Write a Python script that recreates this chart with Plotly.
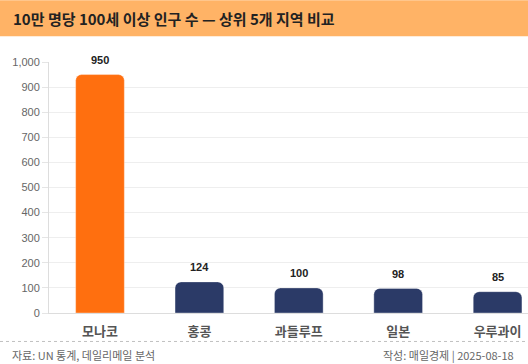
import plotly.graph_objects as go

categories = ["모나코", "홍콩", "과들루프", "일본", "우루과이"]
values = [950, 124, 100, 98, 85]
bar_colors = ["#FF6F0F", "#2B3A67", "#2B3A67", "#2B3A67", "#2B3A67"]
y_ticks = [0, 100, 200, 300, 400, 500, 600, 700, 800, 900, 1000]

title_text = "10만 명당 100세 이상 인구 수 — 상위 5개 지역 비교"
source_text = "자료: UN 통계, 데일리메일 분석"
credit_text = "작성: 매일경제 | 2025-08-18"

W, H = 528, 364
L, R, T, B = 49, 0, 61.7, 51
pw, ph = W - L - R, H - T - B

def px(xp):
    return (xp - L) / pw

def py(yp):
    return (H - B - yp) / ph

FONT = "Noto Sans CJK KR"

fig = go.Figure(
    go.Bar(
        x=list(range(len(categories))),
        y=values,
        width=0.49,
        marker=dict(color=bar_colors, cornerradius=6,
                    line=dict(color="rgba(255,255,255,0.35)", width=1)),
        cliponaxis=False,
        hoverinfo="skip",
    )
)

value_labels = [
    dict(x=i, y=v, xref="x", yref="y", text=f"{v:,}", showarrow=False,
         yanchor="middle", yshift=14.5,
         font=dict(family="Liberation Sans", size=11, color="#222", weight="bold"))
    for i, v in enumerate(values)
]

fig.update_layout(
    width=W, height=H,
    margin=dict(l=L, r=R, t=T, b=B, pad=0),
    paper_bgcolor="white",
    plot_bgcolor="white",
    showlegend=False,
    font=dict(family=FONT),
    xaxis=dict(
        tickmode="array",
        tickvals=list(range(len(categories))),
        ticktext=categories,
        range=[-0.513, 4.306],
        showgrid=False,
        showline=True, linecolor="#dddddd", linewidth=1,
        ticks="",
        tickfont=dict(family=FONT, size=13, color="#555555", weight="bold"),
        ticklabelstandoff=6,
        zeroline=False,
    ),
    yaxis=dict(
        range=[0, 1000],
        tickmode="array",
        tickvals=y_ticks,
        tickformat=",",
        showgrid=True, gridcolor="#eeeeee", gridwidth=1,
        showline=True, linecolor="#dddddd", linewidth=1,
        ticks="outside", ticklen=6, tickcolor="#e5e5e5",
        tickfont=dict(family="Liberation Sans", size=11, color="#666666"),
        zeroline=False,
    ),
    shapes=[
        dict(type="rect", xref="paper", yref="paper",
             x0=px(0), x1=px(W), y0=py(36), y1=py(0),
             fillcolor="#FFB366", line=dict(width=0), layer="below"),
        dict(type="line", xref="paper", yref="paper",
             x0=px(0), x1=px(W), y0=py(341.5), y1=py(341.5),
             line=dict(color="#c0c0c0", width=1, dash="dot")),
    ],
    annotations=value_labels + [
        dict(text=title_text, xref="paper", yref="paper",
             x=px(11), y=py(18), xanchor="left", yanchor="middle",
             showarrow=False,
             font=dict(family=FONT, size=15, color="#222222", weight="bold")),
        dict(text=source_text, xref="paper", yref="paper",
             x=px(10), y=py(355), xanchor="left", yanchor="middle",
             showarrow=False,
             font=dict(family=FONT, size=11, color="#666666")),
        dict(text=credit_text, xref="paper", yref="paper",
             x=px(516), y=py(355), xanchor="right", yanchor="middle",
             showarrow=False,
             font=dict(family=FONT, size=11, color="#666666")),
    ],
)

fig.write_html(
    "out.html",
    config={"displayModeBar": False},
    post_script="document.body.style.margin='0';document.body.style.padding='0';document.body.style.overflow='hidden';",
)
